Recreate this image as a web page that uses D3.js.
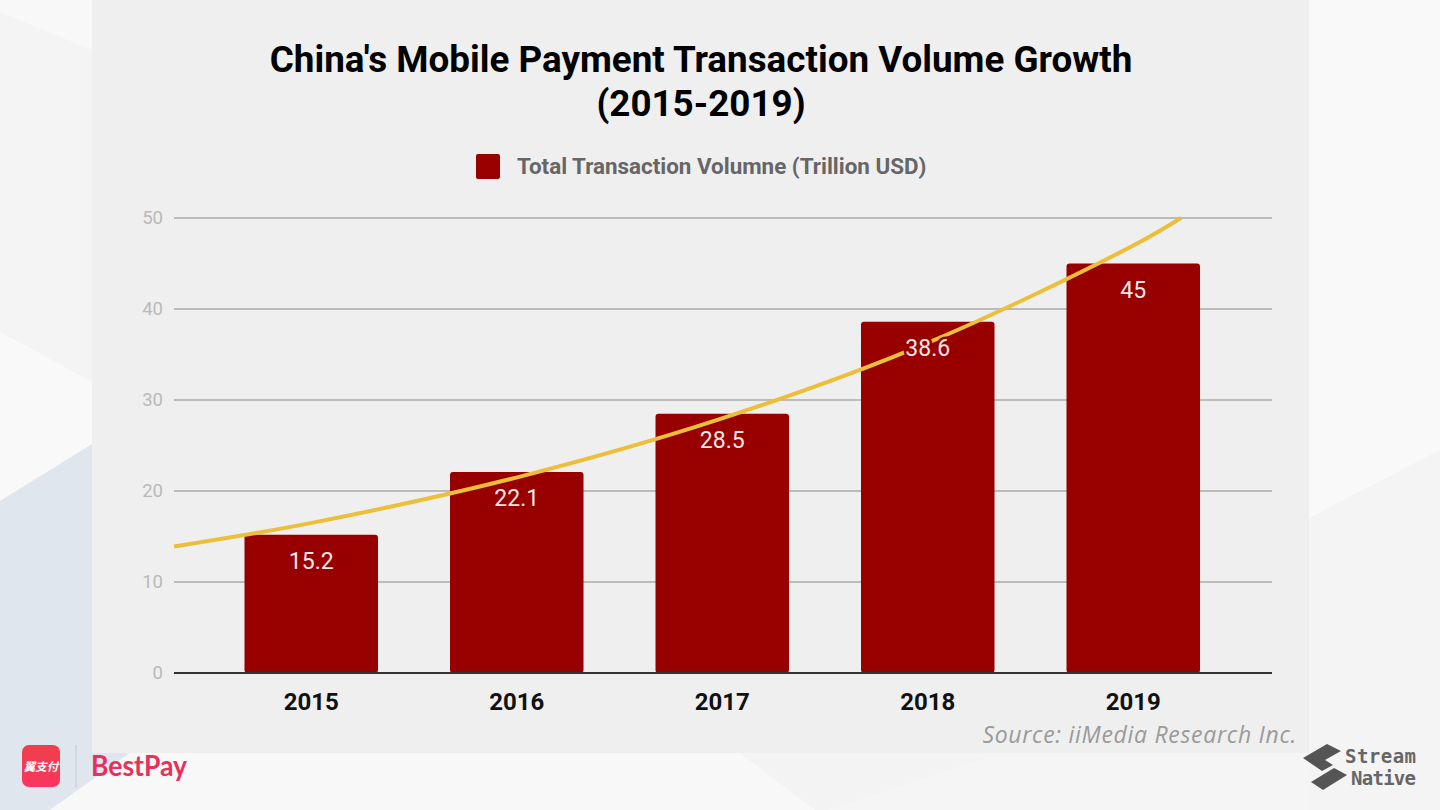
<!DOCTYPE html>
<html><head><meta charset="utf-8">
<script src="https://cdn.jsdelivr.net/npm/d3@7/dist/d3.min.js"></script>
<style>html,body{margin:0;padding:0;background:#f7f7f7;overflow:hidden}svg{display:block}text{font-family:Roboto,sans-serif}</style>
</head><body>
<script>
const categories = ["2015","2016","2017","2018","2019"];
const volumes = [15.2,22.1,28.5,38.6,45];
const valueLabels = ["15.2","22.1","28.5","38.6","45"];
const yTicks = [0,10,20,30,40,50];
const trendYears = [2014.33,2015,2016,2017,2018,2019,2019.23];
const trendValues = [13.9,16.5,21.5,28.0,36.3,47.0,50];
const titleLines = ["China's Mobile Payment Transaction Volume Growth","(2015-2019)"];
const legendLabel = "Total Transaction Volumne (Trillion USD)";
const sourceLabel = "Source: iiMedia Research Inc.";

const svg = d3.select("body").append("svg").attr("width",1440).attr("height",810);

// slide background
const poly = (pts,fill)=>svg.append("polygon").attr("points",pts.map(p=>p.join(",")).join(" ")).attr("fill",fill);
svg.append("rect").attr("width",1440).attr("height",810).attr("fill","#f7f7f7");
poly([[0,0],[92,0],[92,50],[0,12]],"#f8f8f8");
poly([[0,12],[92,50],[92,382],[0,332]],"#f4f4f4");
poly([[0,332],[92,382],[92,444],[0,501]],"#f9f9f9");
poly([[0,501],[92,444],[130,753],[50,810],[0,810]],"#dfe6ee");
poly([[1309,0],[1440,0],[1440,450],[1309,518]],"#f9f9f9");
poly([[1309,518],[1440,450],[1440,810],[1309,810]],"#f4f4f4");
poly([[130,753],[740,753],[815,810],[50,810]],"#f8f8f8");
poly([[740,753],[1000,753],[830,810],[815,810]],"#f3f3f3");
poly([[1000,753],[1309,753],[1309,810],[830,810]],"#f5f5f5");
svg.append("rect").attr("x",92).attr("y",0).attr("width",1217).attr("height",753).attr("fill","#efefef");

// title
svg.append("g").selectAll("text").data(titleLines).join("text")
  .attr("x",701).attr("y",(d,i)=>72+i*44).attr("text-anchor","middle")
  .attr("font-size",36.8).attr("font-weight",700).attr("fill","#000").text(d=>d);

// scales
const x = d3.scaleBand().domain(categories).range([208.5,1236]).paddingInner(0.3504).paddingOuter(0.1752);
const y = d3.scaleLinear().domain([0,50]).range([673,218]);
const xTrend = d3.scaleLinear().domain([2015,2019]).range([311.75,1133.75]);

// grid and y axis
const gridG = svg.append("g").attr("transform","translate(174,0)")
  .call(d3.axisLeft(y).offset(0).tickValues(yTicks).tickSize(-1098).tickPadding(11));
gridG.select(".domain").remove();
gridG.selectAll(".tick line").attr("stroke","#bbbbbb").attr("stroke-width",2);
gridG.selectAll(".tick text").attr("fill","#b9b9b9").attr("font-size",18.5).style("font-family","Roboto,sans-serif");

// bars
svg.append("g").selectAll("rect").data(volumes).join("rect")
  .attr("x",(d,i)=>x(categories[i])).attr("y",d=>y(d))
  .attr("width",x.bandwidth()).attr("height",d=>y(0)-y(d))
  .attr("rx",3).attr("fill","#980000");

// baseline and x axis
const xG = svg.append("g").attr("transform","translate(0,673)")
  .call(d3.axisBottom(x).offset(0).tickSize(0).tickPadding(20));
xG.select(".domain").remove();
xG.selectAll(".tick text").attr("fill","#111").attr("font-size",24).attr("font-weight",700).style("font-family","Roboto,sans-serif");
svg.append("line").attr("x1",174).attr("x2",1272).attr("y1",y(0)).attr("y2",y(0)).attr("stroke","#333").attr("stroke-width",2);

// trend
svg.append("path").datum(d3.zip(trendYears,trendValues))
  .attr("d",d3.line().x(d=>xTrend(d[0])).y(d=>y(d[1])).curve(d3.curveCatmullRom.alpha(0.5)))
  .attr("fill","none").attr("stroke","#ecbf3a").attr("stroke-width",4);

// value labels
svg.append("g").selectAll("text").data(volumes).join("text")
  .attr("x",(d,i)=>x(categories[i])+x.bandwidth()/2).attr("y",d=>y(d)+34)
  .attr("text-anchor","middle").attr("font-size",23).attr("fill","#f7e6e6")
  .attr("stroke","#980000").attr("stroke-width",5).style("paint-order","stroke")
  .text((d,i)=>valueLabels[i]);

// legend
svg.append("rect").attr("x",476).attr("y",154).attr("width",24).attr("height",25).attr("rx",2).attr("fill","#980000");
svg.append("text").attr("x",517).attr("y",174).attr("font-size",22.4).attr("font-weight",700).attr("fill","#666").text(legendLabel);

// source
svg.append("text").attr("x",1297).attr("y",743).attr("text-anchor","end")
  .attr("font-size",23).attr("font-style","italic").attr("letter-spacing",0.7)
  .style("font-family","'Open Sans',sans-serif").attr("fill","#9a9a9a").text(sourceLabel);

// BestPay logo
const grad = svg.append("defs").append("linearGradient").attr("id","bp").attr("x1",0).attr("x2",0).attr("y1",0).attr("y2",1);
grad.append("stop").attr("offset",0).attr("stop-color","#ee3f4a");
grad.append("stop").attr("offset",1).attr("stop-color","#fb3560");
svg.append("rect").attr("x",22).attr("y",745).attr("width",38).attr("height",42).attr("rx",7).attr("fill","url(#bp)");
svg.append("text").attr("x",41).attr("y",771).attr("text-anchor","middle").attr("font-size",11.5).attr("font-style","italic").attr("font-weight",700)
  .style("font-family","'Noto Sans CJK SC',sans-serif").attr("fill","#fff").text("翼支付");
svg.append("line").attr("x1",76).attr("x2",76).attr("y1",745).attr("y2",788).attr("stroke","#ccd3db").attr("stroke-width",1.5);
svg.append("text").attr("x",91).attr("y",776).attr("font-size",28).attr("font-weight",700)
  .attr("textLength",96).attr("lengthAdjust","spacingAndGlyphs")
  .style("font-family","Lato,sans-serif").attr("fill","#e8305a").text("BestPay");

// StreamNative logo
poly([[1303,758],[1327,744],[1341,751],[1325,760],[1333,765],[1322,771]],"#555");
poly([[1311,782],[1334,768],[1347,775],[1323,790]],"#555");
svg.append("text").attr("x",1416).attr("y",763).attr("text-anchor","end").attr("font-size",19).attr("font-weight",700)
  .attr("textLength",71).style("font-family","'DejaVu Sans Mono',monospace").attr("fill","#666").text("Stream");
svg.append("text").attr("x",1416).attr("y",785).attr("text-anchor","end").attr("font-size",19).attr("font-weight",700)
  .attr("textLength",65).style("font-family","'DejaVu Sans Mono',monospace").attr("fill","#666").text("Native");
</script>
</body></html>
